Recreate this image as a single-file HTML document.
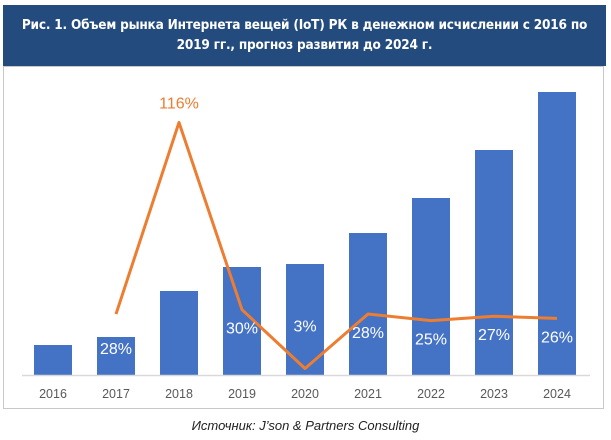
<!DOCTYPE html>
<html><head><meta charset="utf-8"><style>
body{margin:0;width:611px;height:440px;background:#fff;font-family:"Liberation Sans","DejaVu Sans",sans-serif;overflow:hidden;position:relative}
#hdr{position:absolute;left:3px;top:5px;width:603px;height:61px;background:#234b7d;color:#fff;font-weight:bold;font-size:13.5px;text-align:center;line-height:20px;padding-top:10px;box-sizing:border-box;font-family:"DejaVu Sans Condensed","Liberation Sans Narrow","Liberation Sans",sans-serif;letter-spacing:-0.2px}
#box{position:absolute;left:3px;top:66px;width:601px;height:343px;border:1px solid #c8c8c8;box-sizing:border-box}
#src{position:absolute;left:0;width:611px;top:418px;text-align:center;font-style:italic;font-size:13px;color:#222}
svg{position:absolute;left:0;top:0}
</style></head><body>
<div id="hdr">Рис. 1. Объем рынка Интернета вещей (IoT) РК в денежном исчислении с 2016 по<br>2019 гг., прогноз развития до 2024 г.</div>
<div id="box"></div>
<svg id="chart" width="611" height="440"></svg>
<div id="src">Источник: J’son &amp; Partners Consulting</div>
<script>
const categories=["2016","2017","2018","2019","2020","2021","2022","2023","2024"];
const marketValues=[30,38,84,108,111,142,177,225,283];
const growthValues=[null,28,116,30,3,28,25,27,26];
const growthLabels=["","28%","116%","30%","3%","28%","25%","27%","26%"];
const NS="http://www.w3.org/2000/svg";
const svg=document.getElementById('chart');
const base=375;
function xc(i){return 53+i*63;}
function yBar(v){return base-v;}
function yLine(v){return base-v*2.177;}
function mk(t,a){const e=document.createElementNS(NS,t);for(const k in a)e.setAttribute(k,a[k]);svg.appendChild(e);return e;}
categories.forEach((c,i)=>{
 const b=mk('rect',{x:xc(i)-19,y:yBar(marketValues[i]),width:38,height:marketValues[i],fill:'#4472c4'});
 
 
 const t=mk('text',{x:xc(i),y:398,'text-anchor':'middle','font-size':'12.5',fill:'#595959'});
 t.textContent=c;
 
 
});
const ax=mk('line',{x1:22,x2:590,y1:base+0.5,y2:base+0.5,stroke:'#d9d9d9','stroke-width':1.5});


let d='';
growthValues.forEach((v,i)=>{if(v===null)return;d+=(d?'L':'M')+xc(i)+','+yLine(v);});
const ln=mk('path',{d:d,fill:'none',stroke:'#ed7d31','stroke-width':3,'stroke-linejoin':'round'});


growthValues.forEach((v,i)=>{if(v===null)return;
 const py=yLine(v);
 const above=v>60;
 let y;
 if(above){y=py-14;}
 else{y=Math.max(py+24,yBar(marketValues[i])+17);if(y>base-10)y=py-37;}
 const t=mk('text',{x:xc(i),y:y,'text-anchor':'middle','font-size':'16',fill:above?'#ed7d31':'#fff'});
 t.textContent=growthLabels[i];
 
 
});
</script>
</body></html>
